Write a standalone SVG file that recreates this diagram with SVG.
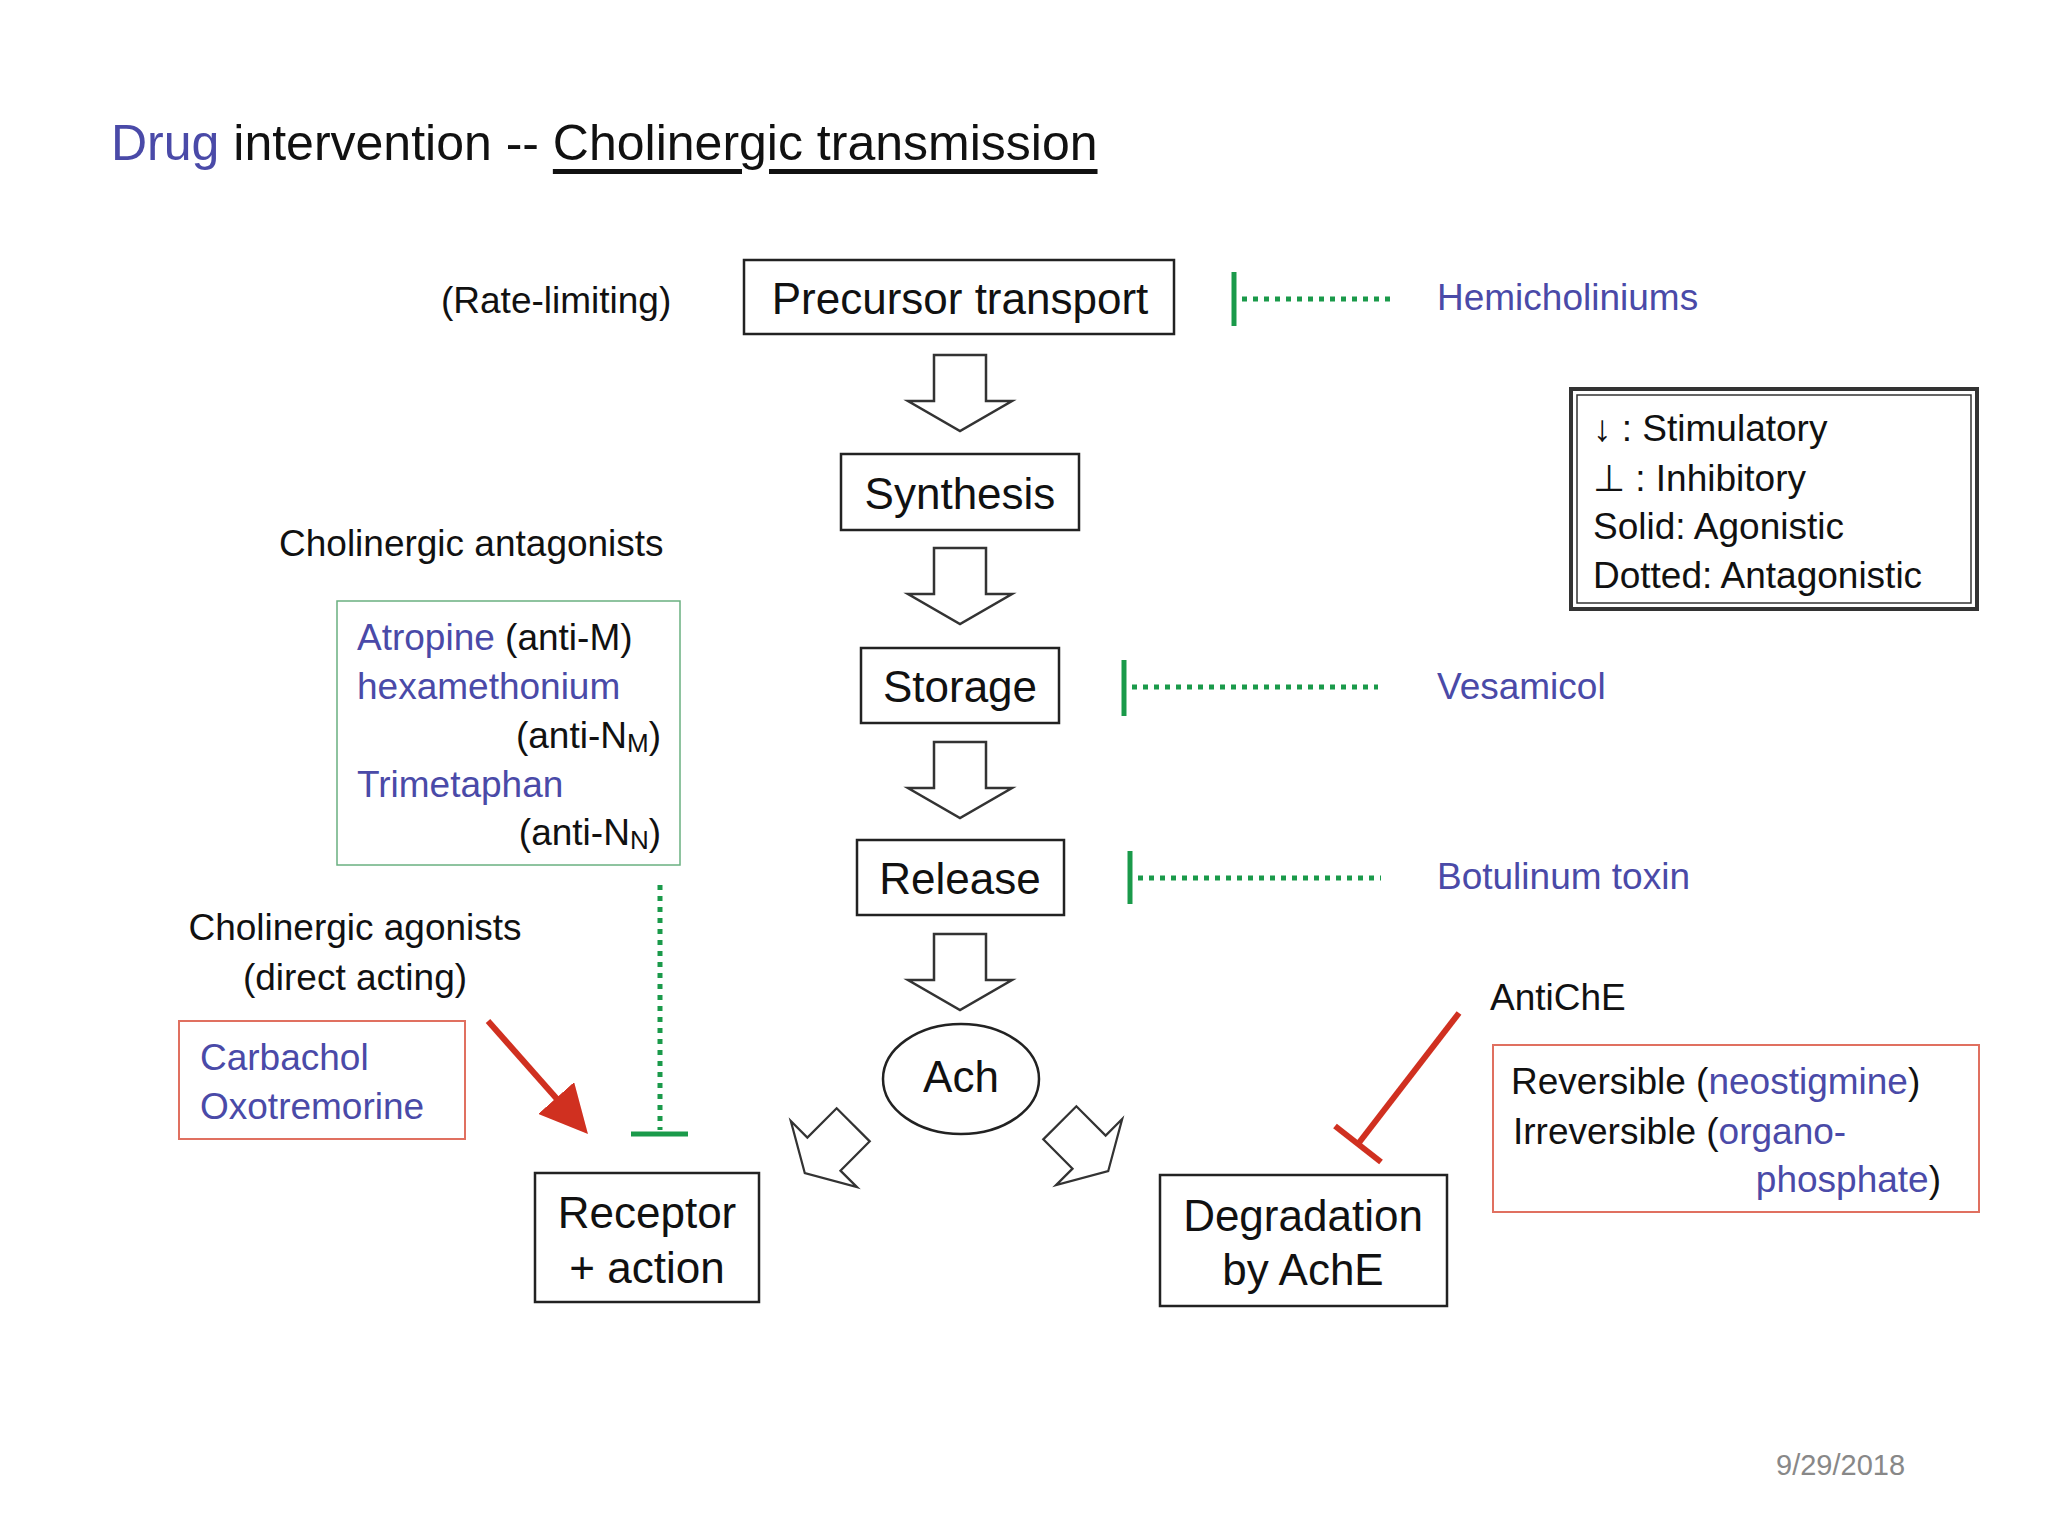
<svg xmlns="http://www.w3.org/2000/svg" width="2048" height="1536" viewBox="0 0 2048 1536">
<style>
text{font-family:"Liberation Sans",Arial,sans-serif;fill:#111;dominant-baseline:central}
.box{fill:#fff;stroke:#222;stroke-width:2.5}
.bt{font-size:44px;text-anchor:middle}
.s{font-size:37px}
.b{fill:#4a4aa8}
.blk{fill:#fff;stroke:#333;stroke-width:2.5;stroke-linejoin:miter}
.dot{stroke:#1a9a4a;stroke-width:5;stroke-dasharray:5 6;fill:none}
.bar{stroke:#1a9a4a;stroke-width:5}
</style>
<defs>
<path id="ba" d="M-26,-38 H26 V8 H52 L0,38 L-52,8 H-26 Z" class="blk"/>
<marker id="ra" markerWidth="8" markerHeight="8" refX="6" refY="4" orient="auto" markerUnits="strokeWidth"><path d="M0,0 L8,4 L0,8 Z" fill="#d03020"/></marker>
</defs>
<rect width="2048" height="1536" fill="#fff"/>
<text x="111" y="143" style="font-size:50px"><tspan class="b">Drug</tspan> intervention -- <tspan text-decoration="underline">Cholinergic transmission</tspan></text>

<g id="precursor"><rect class="box" x="744" y="260" width="430" height="74"/><text class="bt" x="960" y="298">Precursor transport</text></g>
<g id="ratelimiting"><text class="s" x="441" y="300">(Rate-limiting)</text></g>
<g id="synthesis"><rect class="box" x="841" y="454" width="238" height="76"/><text class="bt" x="960" y="493">Synthesis</text></g>
<g id="storage"><rect class="box" x="861" y="648" width="198" height="75"/><text class="bt" x="960" y="686">Storage</text></g>
<g id="release"><rect class="box" x="857" y="840" width="207" height="75"/><text class="bt" x="960" y="878">Release</text></g>
<g id="ach"><ellipse cx="961" cy="1079" rx="78" ry="55" fill="#fff" stroke="#222" stroke-width="2.5"/><text class="bt" x="961" y="1076">Ach</text></g>
<g id="receptor"><rect class="box" x="535" y="1173" width="224" height="129"/><text class="bt" x="647" y="1212">Receptor</text><text class="bt" x="647" y="1267">+ action</text></g>
<g id="degradation"><rect class="box" x="1160" y="1175" width="287" height="131"/><text class="bt" x="1303" y="1215">Degradation</text><text class="bt" x="1303" y="1269">by AchE</text></g>

<g id="legend"><rect x="1571" y="389" width="406" height="220" fill="#fff" stroke="#333" stroke-width="4"/><rect x="1577" y="395" width="394" height="208" fill="none" stroke="#333" stroke-width="1.5"/>
<text class="s" x="1593" y="428">↓ :  Stimulatory</text><text class="s" x="1593" y="478">⊥ :  Inhibitory</text><text class="s" x="1593" y="526">Solid: Agonistic</text><text class="s" x="1593" y="575">Dotted: Antagonistic</text></g>

<g id="hemicholiniums"><text class="s b" x="1437" y="297">Hemicholiniums</text></g>
<g id="vesamicol"><text class="s b" x="1437" y="686">Vesamicol</text></g>
<g id="botulinum"><text class="s b" x="1437" y="876">Botulinum toxin</text></g>

<g id="antagonists"><text class="s" x="279" y="543">Cholinergic antagonists</text>
<rect x="337" y="601" width="343" height="264" fill="#fff" stroke="#6ab080" stroke-width="1.5"/>
<text class="s" x="357" y="637"><tspan class="b">Atropine</tspan> (anti-M)</text>
<text class="s b" x="357" y="686">hexamethonium</text>
<text class="s" x="661" y="735" text-anchor="end">(anti-N<tspan font-size="26" dy="8">M</tspan><tspan dy="-8">)</tspan></text>
<text class="s b" x="357" y="784">Trimetaphan</text>
<text class="s" x="661" y="832" text-anchor="end">(anti-N<tspan font-size="26" dy="8">N</tspan><tspan dy="-8">)</tspan></text></g>

<g id="agonists"><text class="s" x="355" y="927" text-anchor="middle">Cholinergic agonists</text><text class="s" x="355" y="977" text-anchor="middle">(direct acting)</text>
<rect x="179" y="1021" width="286" height="118" fill="#fff" stroke="#e07060" stroke-width="2"/>
<text class="s b" x="200" y="1057">Carbachol</text><text class="s b" x="200" y="1106">Oxotremorine</text></g>

<g id="antiche"><text class="s" x="1490" y="997">AntiChE</text>
<rect x="1493" y="1045" width="486" height="167" fill="#fff" stroke="#e07060" stroke-width="2"/>
<text class="s" x="1511" y="1081">Reversible (<tspan class="b">neostigmine</tspan>)</text>
<text class="s" x="1513" y="1131">Irreversible (<tspan class="b">organo-</tspan></text>
<text class="s" x="1941" y="1179" text-anchor="end"><tspan class="b">phosphate</tspan>)</text></g>

<g id="connectors">
<use href="#ba" x="960" y="393"/>
<use href="#ba" x="960" y="586"/>
<use href="#ba" x="960" y="780"/>
<use href="#ba" x="960" y="972"/>
<use href="#ba" transform="translate(829,1149) rotate(45) scale(0.9)"/>
<use href="#ba" transform="translate(1084,1147) rotate(-45) scale(0.9)"/>
<line class="bar" x1="1234" y1="272" x2="1234" y2="326"/><line class="dot" x1="1242" y1="299" x2="1395" y2="299"/>
<line class="bar" x1="1124" y1="660" x2="1124" y2="716"/><line class="dot" x1="1132" y1="687" x2="1378" y2="687"/>
<line class="bar" x1="1130" y1="851" x2="1130" y2="904"/><line class="dot" x1="1138" y1="878" x2="1381" y2="878"/>
<line class="dot" x1="660" y1="885" x2="660" y2="1130"/><line class="bar" x1="631" y1="1134" x2="688" y2="1134"/>
<line x1="488" y1="1021" x2="580" y2="1125" stroke="#d03020" stroke-width="6" marker-end="url(#ra)"/>
<line x1="1459" y1="1013" x2="1358" y2="1144" stroke="#d03020" stroke-width="6"/>
<line x1="1335" y1="1126" x2="1381" y2="1162" stroke="#d03020" stroke-width="6"/>
</g>
<text x="1776" y="1465" style="font-size:29px;fill:#888">9/29/2018</text>
</svg>
